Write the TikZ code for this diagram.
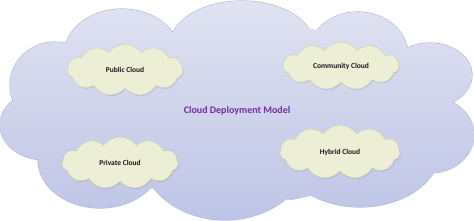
\documentclass[tikz,border=0pt]{standalone}
\usepackage{fontspec}
\setmainfont{Carlito}
\usetikzlibrary{shapes.symbols,shadows}
\definecolor{bgtop}{RGB}{224,227,241}
\definecolor{bgbot}{RGB}{190,196,230}
\definecolor{bgline}{RGB}{182,187,213}
\definecolor{cloudfill}{RGB}{236,239,214}
\definecolor{cloudline}{RGB}{204,209,180}
\definecolor{titlecol}{RGB}{112,48,160}
\tikzset{
  bumps/.style={insert path={
    (242,45) ellipse [x radius=72, y radius=44]
    (122,55) ellipse [x radius=58, y radius=46]
    (55,85) ellipse [x radius=45, y radius=43]
    (45,125) ellipse [x radius=45, y radius=35]
    (100,160) ellipse [x radius=62, y radius=48]
    (225,150) ellipse [x radius=85, y radius=70]
    (360,150) ellipse [x radius=80, y radius=57]
    (430,135) ellipse [x radius=44, y radius=38]
    (430,75) ellipse [x radius=42, y radius=32]
    (358,55) ellipse [x radius=50, y radius=43]
  }},
  core/.style={insert path={
    (176,32) -- (312,29) -- (400,47) -- (445,105) -- (428,170) -- (292,200)
    -- (145,188) -- (40,156) -- (24,90) -- (72,44) -- cycle
  }},
  smallcloud/.style={cloud, cloud puffs=11, cloud puff arc=110, aspect=2.2,
    draw=cloudline, line width=0.5pt, fill=cloudfill, inner sep=0pt,
    font=\bfseries\fontsize{7.5}{9}\selectfont, text=black!90,
    drop shadow={opacity=0.22, shadow xshift=0.8pt, shadow yshift=-1.2pt}},
  titlestyle/.style={font=\bfseries\fontsize{10}{12}\selectfont, text=titlecol}
}
\begin{document}
\begin{tikzpicture}[x=1pt,y=-1pt]
\useasboundingbox[fill=white] (0,0) rectangle (474,221);
\path[draw=bgline, line width=1.2pt, bumps];
\begin{scope}
  \clip[bumps, core];
  \shade[top color=bgtop, bottom color=bgbot] (0,0) rectangle (474,221);
\end{scope}
\node[smallcloud, minimum width=116pt, minimum height=52pt] (public) at (125,70) {Public Cloud};
\node[smallcloud, minimum width=116pt, minimum height=48pt] (community) at (341,66) {Community Cloud};
\node[smallcloud, minimum width=116pt, minimum height=52pt] (private) at (120,163) {Private Cloud};
\node[smallcloud, minimum width=120pt, minimum height=54pt] (hybrid) at (340,152) {Hybrid Cloud};
\node[titlestyle] (title) at (237,111) {Cloud Deployment Model};
\end{tikzpicture}
\end{document}
